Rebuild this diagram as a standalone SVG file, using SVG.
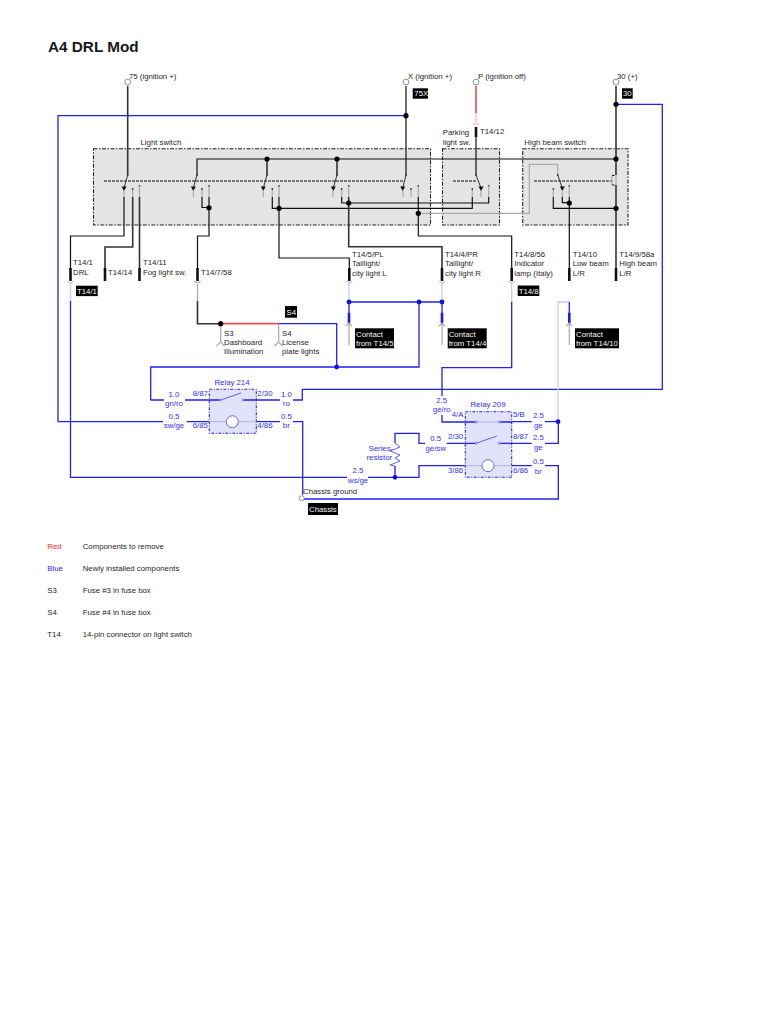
<svg xmlns="http://www.w3.org/2000/svg" width="768" height="1024" viewBox="0 0 768 1024">
<defs>
<style>
text{font-family:"Liberation Sans",Arial,sans-serif;font-size:7.8px;fill:#222;opacity:.97}
.title{font-size:15.3px;font-weight:bold;fill:#111}
.b text,text.b{fill:#2a2aff}
.m{text-anchor:middle}
.w{fill:#fff}
.k{fill:none;stroke:#111;stroke-width:1.2}
.kt{fill:none;stroke:#333;stroke-width:1.6}
.th{fill:none;stroke:#111;stroke-width:2.6}
.bl{fill:none;stroke:#2020f0;stroke-width:1.3}
.blt{fill:none;stroke:#1a1af0;stroke-width:2.6}
.lb{fill:none;stroke:#c8ccf8;stroke-width:1.3}
.gr{fill:none;stroke:#aaa;stroke-width:1.2}
.red{fill:none;stroke:#f02020;stroke-width:1.3}
.rr{fill:none;stroke:#f05050;stroke-width:1.8}
.rl{fill:none;stroke:#f8b0b0;stroke-width:1.2}
.box{fill:#e4e4e4;stroke:#222;stroke-width:1.1;stroke-dasharray:4 1.5 1.5 1.5}
.rel{fill:#e2e2fa;stroke:#2020f0;stroke-width:1.1;stroke-dasharray:3 1.5 1 1.5}
.dash{fill:none;stroke:#111;stroke-width:1;stroke-dasharray:3 1}
.d{fill:#000}
.db{fill:#1010e8}
.o{fill:#fff;stroke:#777;stroke-width:.8}
.ob{fill:#fff;stroke:#5050f0;stroke-width:.7}
.lab{fill:#000}
.coil{fill:#fff;stroke:#6a6af0;stroke-width:1}
.arm{fill:none;stroke:#333;stroke-width:1}
.armb{fill:none;stroke:#5050f0;stroke-width:.9}
.lc{fill:none;stroke:#b0b4f0;stroke-width:1}
.arr{fill:#111}
.pv{fill:none;stroke:#333;stroke-width:1.8;stroke-linecap:round}
</style>
</defs>
<text class="title" x="48" y="52">A4 DRL Mod</text>

<g id="light-switch">
<rect class="box" x="93.500" y="148.700" width="337" height="76.300"/>
<text x="140.500" y="144.700">Light switch</text>
<path class="dash" d="M104 181H403"/>
</g>
<g id="parking-light-switch">
<rect class="box" x="442.500" y="148.700" width="57" height="76.300"/>
<text x="442.700" y="135">Parking</text>
<text x="442.700" y="145">light sw.</text>
<path class="dash" d="M453 181H476"/>
</g>
<g id="high-beam-switch">
<rect class="box" x="522.700" y="148.700" width="105.300" height="76.300"/>
<text x="524.300" y="145">High beam switch</text>
<path class="dash" d="M534 181H612"/>
</g>

<g id="connectors">
<path class="kt" d="M127.700 86V175"/>
<path class="k" d="M406 86V175"/>
<path class="k" d="M197 175V159H616"/>
<path class="kt" d="M267 159V175M337 159V175"/>
<path class="kt" d="M616 86V175M616 185V280"/>
<path class="k" d="M124 197V236H70.500V268"/>
<path class="kt" d="M132.700 197V247H105V268"/>
<path class="kt" d="M139.500 197V268"/>
<path class="k" d="M202 197V207.500H209M209 197V236H197.500V268"/>
<path class="k" d="M272.300 197V208.300H472.300V197"/>
<path class="k" d="M279 197V258H349.300V268"/>
<path class="k" d="M341.700 197V203H488.700V197"/>
<path class="kt" d="M348.700 197V246.700H442V268"/>
<path class="k" d="M418.300 197V236H511.700V268"/>
<path class="k" d="M476 137V175"/>
<path class="k" d="M553.300 197V208.300H616"/>
<path class="k" d="M562.300 197V202.700H569.300M569.300 197V281"/>
<path class="gr" d="M418.300 213.300H529.300V164.300H557.700V175"/>
<path class="arm" d="M127.700 175L124 188M197 175L193.300 188M267 175L263.300 188M337 175L333.300 188M406 175L402.700 188M476 175L481 188M557.700 175L562.300 188"/>
<path class="arr" d="M121.500 186.500H126.500L124 191ZM190.800 186.500H195.800L193.300 191ZM260.800 186.500H265.800L263.300 191ZM330.800 186.500H335.800L333.300 191ZM400.200 186.500H405.200L402.700 191ZM478.500 186.500H483.500L481 191ZM559.800 186.500H564.800L562.300 191Z"/>
<path class="pv" d="M127.700 175h0M197 175h0M267 175h0M337 175h0M406 175h0M476 175h0M557.700 175h0M139.500 186h0M209 186h0M279 186h0M348.700 186h0M418.300 186h0M488.700 186h0M569.300 186h0M132.700 189h0M202 189h0M272.300 189h0M341.700 189h0M411 189h0M472.300 189h0M553.300 189h0"/>
<path class="gr" d="M124 190V197M132.700 190V197M139.500 186V197M193.300 190V197M202 190V197M209 186V197M263.300 190V197M272.300 190V197M279 186V197M333 190V197M341.700 190V197M348.700 186V197M403 190V197M411 190V197M418.300 186V197M472.300 190V197M481 190V197M488.700 186V197M553.300 190V197M562.300 190V197M569.300 186V197M612 176V185"/>
<path class="k" d="M612 175.500H614.500M612 185H614.500"/>
<path class="gr" d="M616 175V185"/>
<path class="th" d="M70.500 268V281M105 268V281M139.500 268V281M197.500 268V281M349.300 268V281M442 268V281M511.700 268V281M476 127V137M569.300 268V281M616 268V281"/>
<path class="gr" d="M197.500 284V301"/>
<path class="kt" d="M197.500 301V323.700H220.700"/>
<path class="red" d="M476 86V113"/>
<path class="rl" d="M476 113V122M473 125Q476 121 479 125"/>
<path class="rr" d="M220.700 323.700H278.700"/>
<path class="bl" d="M278.700 323.700H336.700V367"/>
<path class="gr" d="M220.700 324V342M278.700 324V342M216.500 346L220.700 342L224.500 346M274.500 346L278.700 342L282.500 346"/>
<path class="lb" d="M67.500 281Q70.500 285 73.500 281M346.300 281Q349.300 285 352.300 281M439 281Q442 285 445 281M508.700 281Q511.700 285 514.700 281"/>
<path class="gr" d="M194.500 281Q197.500 285 200.500 281"/>
<path class="lb" d="M70.500 283V301M349 283V302M442 283V302M511.700 283V301.700"/>
<path class="bl" d="M406 115.700H58V421.700H163"/>
<path class="bl" d="M70.500 301V477.300H347"/>
<path class="bl" d="M368 477.300H419V465.700H465.300M511.700 465.700H531.700"/>
<path class="bl" d="M150.700 400V367H419V302H349M419 302H441.700"/>
<path class="bl" d="M349 302V313M442 302V313"/>
<path class="bl" d="M511.700 301.700V367.700H442V396M442 415V422H476"/>
<path class="bl" d="M150.700 400H164M185 400H220.700M243 400H280M293 400H302.300V389.300H662.300V104.300H616"/>
<path class="bl" d="M186.700 421.700H209M256 421.700H280M293 421.700H302.700V495"/>
<path class="bl" d="M395 477.300V466M395 443V433.300H419V443.300H425M446.700 443.300H476M499.300 443.300H531.700M545 443.300H558.300V421.700H545"/>
<path class="bl" d="M499.300 421.700H531.700M545 465.700H558.300V499H302.700"/>
<path class="lb" d="M558 421.700V302H569.300"/>
<path class="bl" d="M569.300 302V313"/>
<path class="blt" d="M349 312.700V323M442 312.700V323M569.300 312.700V323"/>
<path class="gr" d="M349 323V345M442 323V345M569.300 323V345M346 326L349 323L352 326M439 326L442 323L445 326M566.300 326L569.300 323L572.300 326"/>
<path class="armb" d="M395 443L400 447L390 451L400 455L395 458L400 461L390 465L395 466"/>
</g>

<g id="junctions">
<circle class="d" cx="267" cy="159" r="2.600"/><circle class="d" cx="337" cy="159" r="2.600"/><circle class="d" cx="616" cy="159" r="2.600"/>
<circle class="d" cx="209" cy="207.800" r="2.600"/><circle class="d" cx="279" cy="208.300" r="2.600"/><circle class="d" cx="348.700" cy="203" r="2.600"/>
<circle class="d" cx="418.300" cy="213.300" r="2.600"/><circle class="d" cx="569.300" cy="203" r="2.600"/><circle class="d" cx="616" cy="208.300" r="2.600"/>
<circle class="d" cx="406" cy="115.700" r="2.600"/><circle class="d" cx="616" cy="104.300" r="2.600"/><circle class="d" cx="220.700" cy="323.700" r="2.600"/>
<circle class="db" cx="336.700" cy="367" r="2.400"/><circle class="db" cx="349" cy="302" r="2.400"/><circle class="db" cx="419" cy="302" r="2.400"/><circle class="db" cx="442" cy="302" r="2.400"/>
<circle class="db" cx="558" cy="421.700" r="2.400"/><circle class="db" cx="395" cy="477.300" r="2.400"/>
</g>

<g id="terminal-75"><circle class="o" cx="127.700" cy="82" r="2.900"/><text x="129" y="79">75 (ignition +)</text></g>
<g id="terminal-x"><circle class="o" cx="406" cy="82" r="2.900"/><text x="408" y="79">X (ignition +)</text>
<rect class="lab" x="412.700" y="88.300" width="15.300" height="10.400"/><text class="w" x="414.300" y="96.300">75X</text></g>
<g id="terminal-p"><circle class="o" cx="476" cy="82" r="2.900"/><text x="478" y="79">P (ignition off)</text><text x="480" y="134">T14/12</text></g>
<g id="terminal-30"><circle class="o" cx="616" cy="82" r="2.900"/><text x="617" y="79">30 (+)</text>
<rect class="lab" x="622" y="88.300" width="10.700" height="10.400"/><text class="w" x="623" y="96.300">30</text></g>

<g id="pin-labels">
<text x="73" y="265">T14/1</text><text x="73" y="275">DRL</text>
<rect class="lab" x="76" y="285.700" width="21.700" height="10.400"/><text class="w" x="77" y="293.500">T14/1</text>
<text x="108" y="275">T14/14</text>
<text x="143" y="265">T14/11</text><text x="143" y="275">Fog light sw.</text>
<text x="201" y="275">T14/7/58</text>
<text x="352" y="256.700">T14/5/PL</text><text x="352" y="266">Taillight/</text><text x="352" y="275.500">city light L</text>
<text x="445" y="256.700">T14/4/PR</text><text x="445" y="266">Taillight/</text><text x="445" y="275.500">city light R</text>
<text x="514.300" y="256.700">T14/8/56</text><text x="514.300" y="266">Indicator</text><text x="514.300" y="275.500">lamp (Italy)</text>
<rect class="lab" x="517.700" y="285.500" width="21.600" height="10.500"/><text class="w" x="518.700" y="293.500">T14/8</text>
<text x="572.700" y="256.700">T14/10</text><text x="572.700" y="266">Low beam</text><text x="572.700" y="275.500">L/R</text>
<text x="619.300" y="256.700">T14/9/58a</text><text x="619.300" y="266">High beam</text><text x="619.300" y="275.500">L/R</text>
</g>

<g id="fuses">
<rect class="lab" x="285" y="306" width="12" height="11.700"/><text class="w" x="286.500" y="314.500">S4</text>
<text x="224" y="335.700">S3</text><text x="224" y="345">Dashboard</text><text x="224" y="353.500">Illumination</text>
<text x="282" y="335.700">S4</text><text x="282" y="345">License</text><text x="282" y="353.500">plate lights</text>
</g>

<g id="contacts">
<rect class="lab" x="355" y="328.300" width="39" height="20"/><text class="w" x="356" y="336.500">Contact</text><text class="w" x="356" y="345.500">from T14/5</text>
<rect class="lab" x="447.700" y="328.300" width="39" height="20"/><text class="w" x="448.700" y="336.500">Contact</text><text class="w" x="448.700" y="345.500">from T14/4</text>
<rect class="lab" x="575" y="328.300" width="44" height="20"/><text class="w" x="576" y="336.500">Contact</text><text class="w" x="576" y="345.500">from T14/10</text>
</g>

<g id="relay-214" class="b">
<rect class="rel" x="209.300" y="389.300" width="47" height="44"/>
<path class="bl" d="M209.300 400H220.700M243 400H256.300"/>
<path class="lc" d="M209.300 421.700H226M238.500 421.700H256.300"/>
<path class="armb" d="M220.700 400L241 393"/>
<circle class="ob" cx="220.700" cy="400" r="1.100"/><circle class="ob" cx="243" cy="400" r="1.100"/>
<circle class="coil" cx="232.300" cy="421.700" r="6"/>
<text class="m" x="232" y="385">Relay 214</text>
<text class="m" x="174" y="396.700">1.0</text><text class="m" x="174" y="406">gn/ro</text>
<text class="m" x="174" y="418.700">0.5</text><text class="m" x="174" y="428">sw/ge</text>
<text x="192.700" y="396">8/87</text><text x="192.700" y="428">6/85</text>
<text x="257.300" y="396">2/30</text><text x="257.300" y="428">4/86</text>
<text class="m" x="286.300" y="396.700">1.0</text><text class="m" x="286.300" y="406">ro</text>
<text class="m" x="286.300" y="418.700">0.5</text><text class="m" x="286.300" y="428">br</text>
</g>

<g id="relay-209" class="b">
<rect class="rel" x="465.300" y="411.700" width="46.400" height="65.600"/>
<path class="bl" d="M465.300 422H476M499.300 422H511.700M465.300 443.300H476M499.300 443.300H511.700"/>
<path class="lc" d="M465.300 465.700H482M494 465.700H511.700"/>
<path class="lc" d="M476 422H499"/>
<path class="armb" d="M476 443.300L497 436"/>
<circle class="ob" cx="476" cy="422" r="1.100"/><circle class="ob" cx="499.300" cy="422" r="1.100"/>
<circle class="ob" cx="476" cy="443.300" r="1.100"/><circle class="ob" cx="499.300" cy="443.300" r="1.100"/>
<circle class="coil" cx="488" cy="465.700" r="6"/>
<text class="m" x="488" y="407">Relay 209</text>
<text class="m" x="441.700" y="402.700">2.5</text><text class="m" x="441.700" y="412">ge/ro</text>
<text x="451.700" y="417">4/A</text><text x="513" y="417">5/B</text>
<text class="m" x="538.300" y="418.300">2.5</text><text class="m" x="538.300" y="428">ge</text>
<text class="m" x="538.300" y="440">2.5</text><text class="m" x="538.300" y="450">ge</text>
<text x="448" y="439">2/30</text><text x="513" y="439">8/87</text>
<text class="m" x="435.700" y="441">0.5</text><text class="m" x="435.700" y="450.700">ge/sw</text>
<text x="448" y="472.500">3/86</text><text x="513" y="472.500">6/86</text>
<text class="m" x="538.300" y="464">0.5</text><text class="m" x="538.300" y="473.500">br</text>
</g>

<g id="series-resistor" class="b">
<text x="368.500" y="451">Series-</text><text x="366.500" y="460">resistor</text>
<text class="m" x="358" y="473">2.5</text><text class="m" x="358" y="483">ws/ge</text>
</g>

<g id="chassis-ground">
<circle class="o" cx="301.700" cy="498.300" r="2.500"/>
<text x="303" y="494">Chassis ground</text>
<rect class="lab" x="308" y="503" width="30" height="12"/><text class="w" x="309" y="511.800">Chassis</text>
</g>

<g id="legend">
<text x="47.300" y="549" style="fill:#ff2020">Red</text><text x="82.700" y="549">Components to remove</text>
<text x="47.300" y="571" style="fill:#2020ff">Blue</text><text x="82.700" y="571">Newly installed components</text>
<text x="47.300" y="593">S3</text><text x="82.700" y="593">Fuse #3 in fuse box</text>
<text x="47.300" y="615">S4</text><text x="82.700" y="615">Fuse #4 in fuse box</text>
<text x="47.300" y="637">T14</text><text x="82.700" y="637">14-pin connector on light switch</text>
</g>
</svg>
